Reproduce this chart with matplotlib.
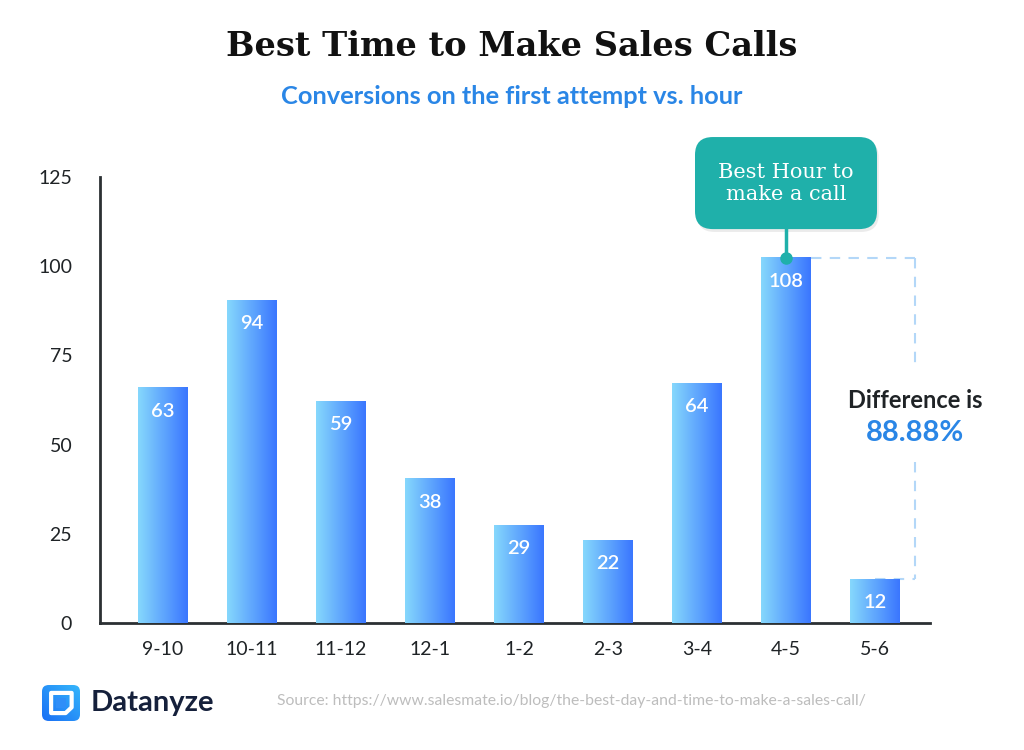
import numpy as np
import matplotlib
matplotlib.use("Agg")
import matplotlib.pyplot as plt
from matplotlib.colors import LinearSegmentedColormap
from matplotlib.patches import FancyBboxPatch, Rectangle, Polygon

# -----------------------------
# DATA
# -----------------------------
hours = ["9-10", "10-11", "11-12", "12-1", "1-2", "2-3", "3-4", "4-5", "5-6"]
bar_heights = [65.9, 90.5, 62.0, 40.4, 27.3, 23.2, 67.2, 102.3, 12.3]   # as drawn
value_labels = [63, 94, 59, 38, 29, 22, 64, 108, 12]                    # as printed
y_ticks = [0, 25, 50, 75, 100, 125]
best_idx = 7
worst_idx = 8
diff_text = "88.88%"

TITLE = "Best Time to Make Sales Calls"
SUBTITLE = "Conversions on the first attempt vs. hour"
SOURCE = "Source: https://www.salesmate.io/blog/the-best-day-and-time-to-make-a-sales-call/"

# -----------------------------
# STYLE
# -----------------------------
DARK = "#1f2326"
BLUE = "#2a86e6"
TEAL = "#1fb0aa"
DASH = "#b3d7f8"
bar_cmap = LinearSegmentedColormap.from_list("bars", ["#86d8fc", "#3a76ff"])
plt.rcParams["font.family"] = ["Lato", "DejaVu Sans"]

fig = plt.figure(figsize=(10.24, 7.5), dpi=100)
fig.patch.set_facecolor("white")
ax = fig.add_axes([100 / 1024, 127 / 750, 830 / 1024, 446 / 750])

x = np.arange(len(hours))
bw = 0.56
bars = ax.bar(x, bar_heights, width=bw, color="#5fa6fd", zorder=2)

# horizontal gradient on each bar
grad = np.linspace(0, 1, 256).reshape(1, -1)
for b in bars:
    ax.imshow(grad, extent=[b.get_x(), b.get_x() + b.get_width(), 0, b.get_height()],
              aspect="auto", cmap=bar_cmap, zorder=3, interpolation="bicubic")

for xi, h, lab in zip(x, bar_heights, value_labels):
    ax.text(xi, h - 6.5, str(lab), ha="center", va="center", color="white",
            fontsize=14.5, fontweight="semibold", zorder=4)

ax.set_xlim(-0.708, 8.618)
ax.set_ylim(0, 125)
ax.set_yticks(y_ticks)
ax.set_xticks(x)
ax.set_xticklabels(hours)
ax.tick_params(axis="y", length=0, pad=20, labelsize=14, labelcolor=DARK)
ax.tick_params(axis="x", length=0, pad=13, labelsize=14, labelcolor=DARK)
for s in ["top", "right"]:
    ax.spines[s].set_visible(False)
for s in ["left", "bottom"]:
    ax.spines[s].set_color("#2b3033")
    ax.spines[s].set_linewidth(2)

# -----------------------------
# DIFFERENCE BRACKET
# -----------------------------
top = bar_heights[best_idx]
low = bar_heights[worst_idx]
xb = 8.45
dash_kw = dict(color=DASH, lw=1.5, ls=(0, (5, 4)), zorder=1, clip_on=False)
ax.plot([best_idx + bw / 2, xb], [top, top], **dash_kw)
ax.plot([xb, xb], [top, 71.5], **dash_kw)
ax.plot([xb, xb], [45.1, low], **dash_kw)
ax.plot([worst_idx, xb], [low, low], **dash_kw)
ax.text(xb, 62.3, "Difference is", ha="center", va="center", color=DARK,
        fontsize=17, fontweight="bold")
ax.text(xb, 53.3, diff_text, ha="center", va="center", color=BLUE,
        fontsize=21, fontweight="bold")

# -----------------------------
# CALLOUT
# -----------------------------
asp = (89 / 3.568)
box_w = 2.045
box_y0, box_y1 = 110.4, 136.2
shadow = FancyBboxPatch((best_idx - box_w / 2 + 0.02, box_y0 - 0.8), box_w, box_y1 - box_y0,
                        boxstyle="round,pad=0,rounding_size=0.2", mutation_aspect=asp,
                        fc="#000000", ec="none", alpha=0.08, clip_on=False, zorder=4)
ax.add_patch(shadow)
box = FancyBboxPatch((best_idx - box_w / 2, box_y0), box_w, box_y1 - box_y0,
                     boxstyle="round,pad=0,rounding_size=0.2", mutation_aspect=asp,
                     fc=TEAL, ec="none", clip_on=False, zorder=5)
ax.add_patch(box)
ax.plot([best_idx, best_idx], [top, box_y0], color=TEAL, lw=2.5, zorder=5, clip_on=False)
ax.plot([best_idx], [top], "o", color=TEAL, ms=8, zorder=6, clip_on=False)
ax.text(best_idx, (box_y0 + box_y1) / 2, "Best Hour to\nmake a call", ha="center",
        va="center", color="white", fontsize=15, family="DejaVu Serif",
        linespacing=1.2, zorder=6)

# -----------------------------
# TITLES / FOOTER
# -----------------------------
fig.text(0.5, 1 - 47 / 750, TITLE, ha="center", va="center", fontsize=24.2,
         fontweight="bold", family="DejaVu Serif", color="#111111")
fig.text(0.5, 1 - 97 / 750, SUBTITLE, ha="center", va="center", fontsize=18.3,
         fontweight="bold", color=BLUE)
fig.text(277 / 1024, 1 - 701 / 750, SOURCE, ha="left", va="center", fontsize=11.3,
         color="#bdbdbd")
fig.text(91 / 1024, 1 - 703 / 750, "Datanyze", ha="left", va="center", fontsize=21,
         fontweight="bold", color="#15203b")

# logo
lax = fig.add_axes([42 / 1024, 1 - 721 / 750, 38 / 1024, 36 / 750])
lax.set_xlim(0, 1)
lax.set_ylim(0, 1)
lax.axis("off")
logo_box = FancyBboxPatch((0, 0), 1, 1, boxstyle="round,pad=0,rounding_size=0.18",
                          fc="none", ec="none")
lax.add_patch(logo_box)
lg = np.linspace(0, 1, 64)
lax.imshow(np.add.outer(lg[::-1], lg) / 2, extent=[0, 1, 0, 1], aspect="auto",
           cmap=LinearSegmentedColormap.from_list("lg", ["#1a6ff5", "#35b6fb"]),
           clip_path=logo_box, zorder=1)
# white "D" frame
lax.add_patch(Polygon([[0.24, 0.22], [0.62, 0.22], [0.78, 0.38], [0.78, 0.78], [0.24, 0.78]],
                      closed=True, fc="none", ec="white", lw=3.0, joinstyle="round", zorder=2))
lax.add_patch(Rectangle((0.37, 0.36), 0.26, 0.28, fc="#2f8ef8", ec="none", zorder=3))

fig.savefig("out.png", dpi=100, facecolor="white")
